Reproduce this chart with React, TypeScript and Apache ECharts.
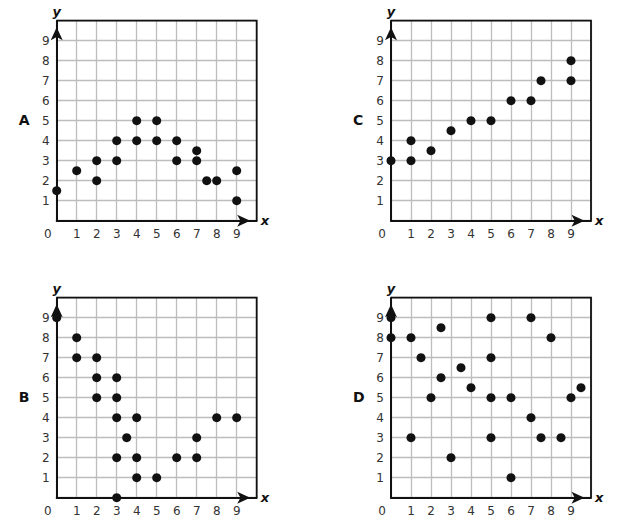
import React, { useEffect, useRef } from "react";
import * as echarts from "echarts";

const panelNames = ["A", "C", "B", "D"];
const tickValues = [0, 1, 2, 3, 4, 5, 6, 7, 8, 9];

const dataA = [
  [0, 1.5], [1, 2.5], [2, 3], [2, 2], [3, 4], [3, 3], [4, 5], [4, 4], [5, 5],
  [5, 4], [6, 4], [6, 3], [7, 3.5], [7, 3], [7.5, 2], [8, 2], [9, 2.5], [9, 1],
];
const dataC = [
  [0, 3], [1, 4], [1, 3], [2, 3.5], [3, 4.5], [4, 5], [5, 5], [6, 6], [7, 6],
  [7.5, 7], [9, 8], [9, 7],
];
const dataB = [
  [0, 9], [1, 8], [1, 7], [2, 7], [2, 6], [2, 5], [3, 6], [3, 5], [3, 4],
  [3.5, 3], [3, 2], [3, 0], [4, 4], [4, 2], [4, 1], [5, 1], [6, 2], [7, 3],
  [7, 2], [8, 4], [9, 4],
];
const dataD = [
  [0, 9], [0, 8], [1, 8], [1.5, 7], [2.5, 8.5], [2.5, 6], [2, 5], [1, 3],
  [3, 2], [3.5, 6.5], [4, 5.5], [5, 9], [5, 7], [5, 5], [5, 3], [6, 5],
  [6, 1], [7, 9], [7, 4], [7.5, 3], [8, 8], [8.5, 3], [9, 5], [9.5, 5.5],
];
const panelData = [dataA, dataC, dataB, dataD];

const gridBoxes = [
  { left: 56.7, top: 20.7 },
  { left: 391, top: 20.7 },
  { left: 56.7, top: 297.7 },
  { left: 391, top: 297.7 },
];
const SIZE = 200;
const FONT = "DejaVu Sans, Verdana, sans-serif";

export default function App() {
  const ref = useRef<HTMLDivElement>(null);
  useEffect(() => {
    if (!ref.current) return;
    const chart = echarts.init(ref.current, null, { renderer: "svg" });
    const grid = gridBoxes.map((g) => ({
      left: g.left,
      top: g.top,
      width: SIZE,
      height: SIZE,
      show: false,
      containLabel: false,
    }));
    const axisCommon = {
      type: "value",
      min: 0,
      max: 10,
      interval: 1,
      splitLine: { show: true, lineStyle: { color: "#bdbdbd", width: 1.3 } },
      axisTick: { show: false },
      axisLine: {
        show: true,
        onZero: false,
        symbol: ["none", "arrow"],
        symbolSize: [9, 13],
        symbolOffset: [0, -6.5],
        lineStyle: { color: "#111", width: 2 },
      },
      nameTextStyle: {
        fontFamily: FONT,
        fontWeight: "bold",
        fontStyle: "italic",
        fontSize: 13,
        color: "#111",
      },
    };
    const xAxis = gridBoxes.map((_, i) => ({
      ...axisCommon,
      gridIndex: i,
      name: "x",
      nameLocation: "end",
      nameGap: 4,
      axisLabel: {
        margin: 7,
        fontFamily: FONT,
        fontSize: 12,
        color: "#333",
        showMaxLabel: true,
        formatter: (v: number) =>
          v === 0 ? "{z|0}" : tickValues.includes(v) ? String(v) : "",
        rich: {
          z: { padding: [0, 18, 0, 0], fontFamily: FONT, fontSize: 12, color: "#333" },
        },
      },
    }));
    const yAxis = gridBoxes.map((_, i) => ({
      ...axisCommon,
      gridIndex: i,
      name: "y",
      nameLocation: "end",
      nameGap: 3,
      axisLabel: {
        margin: 7,
        fontFamily: FONT,
        fontSize: 12,
        color: "#333",
        formatter: (v: number) => (v !== 0 && tickValues.includes(v) ? String(v) : ""),
      },
    }));
    const series = panelData.map((d, i) => ({
      type: "scatter",
      xAxisIndex: i,
      yAxisIndex: i,
      data: d,
      symbolSize: 9,
      clip: false,
      z: 5,
      itemStyle: { color: "#111", opacity: 1 },
    }));
    const labels = panelNames.map((n, i) => ({
      type: "text",
      left: gridBoxes[i].left - 38,
      top: gridBoxes[i].top + SIZE / 2 - 8,
      style: {
        text: n,
        font: `bold 14px ${FONT}`,
        fill: "#111",
      },
    }));
    const frames = gridBoxes.map((g) => ({
      type: "polyline",
      z: 100,
      silent: true,
      shape: {
        points: [
          [g.left, g.top],
          [g.left + SIZE, g.top],
          [g.left + SIZE, g.top + SIZE],
        ],
      },
      style: { stroke: "#111", lineWidth: 1.8, fill: "none" },
    }));
    chart.setOption({
      animation: false,
      grid,
      xAxis,
      yAxis,
      series,
      graphic: [...frames, ...labels],
    });
    return () => chart.dispose();
  }, []);
  return (
    <div
      ref={ref}
      style={{ position: "fixed", left: 0, top: 0, width: 619, height: 522, background: "#fff" }}
    />
  );
}
